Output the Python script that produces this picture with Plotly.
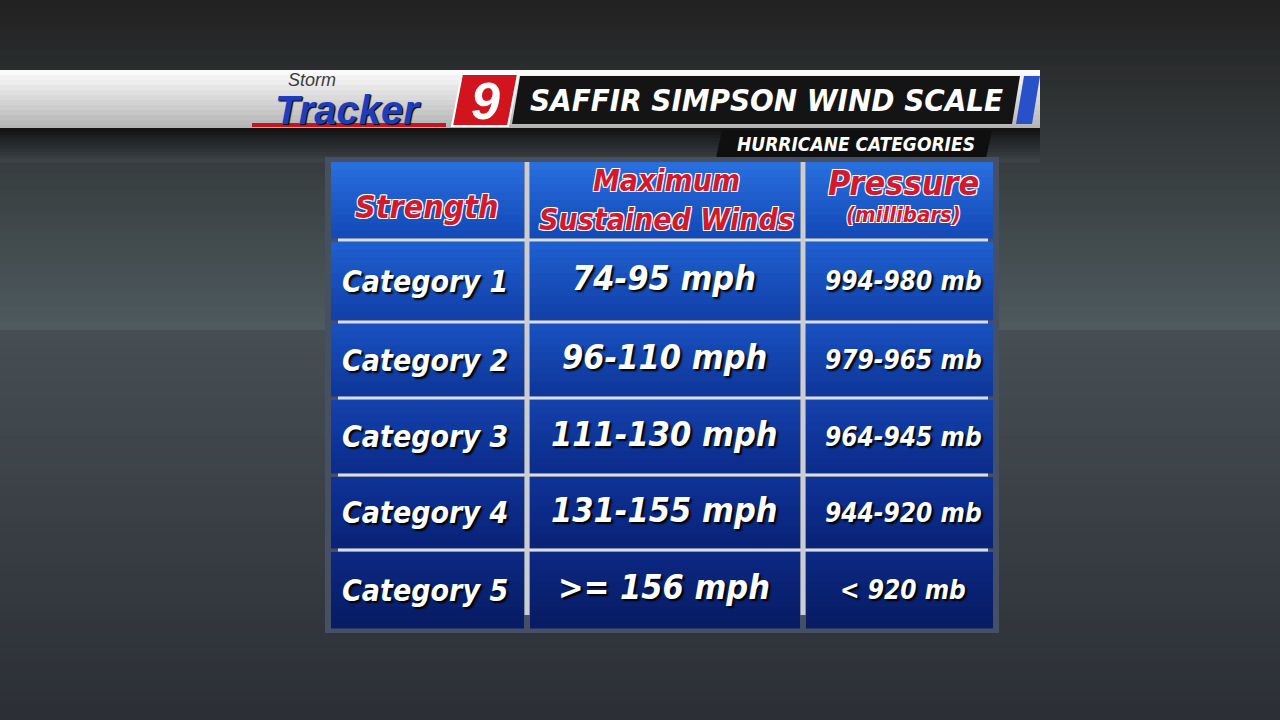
import plotly.graph_objects as go

title = "SAFFIR SIMPSON WIND SCALE"
subtitle = "HURRICANE CATEGORIES"
headers = ["Strength", "Maximum<br>Sustained Winds", "Pressure"]
header_sub = "(millibars)"
categories = ["Category 1", "Category 2", "Category 3", "Category 4", "Category 5"]
winds = ["74-95 mph", "96-110 mph", "111-130 mph", "131-155 mph", ">= 156 mph"]
pressures = ["994-980 mb", "979-965 mb", "964-945 mb", "944-920 mb", "< 920 mb"]

FONT = "DejaVu Sans Condensed, Liberation Sans Narrow, sans-serif"
shapes, ann = [], []

def lerp(c1, c2, t):
    return "rgb(%d,%d,%d)" % tuple(int(a + (b - a) * t) for a, b in zip(c1, c2))

def band(x0, x1, y0, y1, c1, c2, n=20):
    h = (y1 - y0) / n
    for i in range(n):
        shapes.append(dict(type="rect", xref="x", yref="y", x0=x0, x1=x1, y0=y0 + i * h, y1=y0 + (i + 1) * h + 0.6,
                           fillcolor=lerp(c1, c2, i / (n - 1)), line_width=0))

# background
band(0, 1280, 0, 330, (34, 34, 34), (78, 90, 94), 40)
band(0, 1280, 330, 720, (70, 78, 84), (44, 48, 54), 40)

# header bar
band(0, 1040, 70, 130, (250, 250, 250), (180, 180, 180), 12)
band(0, 1040, 128, 162, (20, 20, 20), (60, 66, 70), 10)
shapes.append(dict(type="path", path="M 520 76 L 1020 76 L 1012 124 L 512 124 Z", fillcolor="rgb(20,20,20)", line_width=0))
shapes.append(dict(type="path", path="M 1024 76 L 1040 76 L 1032 124 L 1016 124 Z", fillcolor="rgb(40,80,200)", line_width=0))
shapes.append(dict(type="path", path="M 462 74 L 518 74 L 508 126 L 452 126 Z", fillcolor="rgb(210,20,30)", line=dict(color="white", width=2)))
shapes.append(dict(type="path", path="M 722 130 L 992 130 L 986 158 L 716 158 Z", fillcolor="rgb(15,15,15)", line_width=0))
ann.append(dict(x=766, y=100, text="<b><i>" + title + "</i></b>", showarrow=False,
                font=dict(family=FONT, size=31, color="white")))
ann.append(dict(x=856, y=144, text="<b><i>" + subtitle + "</i></b>", showarrow=False,
                font=dict(family=FONT, size=19, color="white")))
ann.append(dict(x=485, y=101, text="<b><i>9</i></b>", showarrow=False,
                font=dict(family="Liberation Sans", size=52, color="white")))
ann.append(dict(x=312, y=80, text="<i>Storm</i>", showarrow=False,
                font=dict(family="Liberation Sans", size=18, color="rgb(60,60,60)")))
ann.append(dict(x=348, y=110, text="<b><i>Tracker</i></b>", showarrow=False,
                font=dict(family="Liberation Sans", size=40, color="rgb(30,60,190)", shadow="1px 1px 1px black")))
shapes.append(dict(type="rect", x0=252, x1=446, y0=123, y1=127, fillcolor="rgb(200,20,30)", line_width=0))

# table
X0, X1 = 328, 996
cols = [X0, 527, 803, X1]
rows = [160, 240, 322, 398, 475, 550, 630]
shapes.append(dict(type="rect", x0=X0 - 3, x1=X1 + 3, y0=157, y1=633, fillcolor="rgb(70,80,100)", line_width=0))
tops = [(40, 110, 220), (30, 95, 205), (25, 80, 190), (20, 65, 170), (15, 50, 150), (12, 40, 130)]
bots = [(20, 75, 185), (18, 65, 170), (15, 55, 155), (12, 45, 140), (10, 35, 120), (8, 28, 100)]
for r in range(6):
    for c in range(3):
        band(cols[c] + 3, cols[c + 1] - 3, rows[r] + 2, rows[r + 1] - 2, tops[r], bots[r], 10)
for y in rows[1:-1]:
    shapes.append(dict(type="line", x0=X0 + 10, x1=X1 - 8, y0=y, y1=y, line=dict(color="rgb(215,222,235)", width=3)))
for x in cols[1:3]:
    shapes.append(dict(type="line", x0=x, x1=x, y0=162, y1=615, line=dict(color="rgb(200,205,215)", width=5)))

outline = "1px 1px 0px white, -1px -1px 0px white, 1px -1px 0px white, -1px 1px 0px white"
hx = [427, 666, 903]
hs = [32, 30, 34]
hy = [207, 200, 183]
for i, h in enumerate(headers):
    ann.append(dict(x=hx[i], y=hy[i], text="<b><i>" + h + "</i></b>", showarrow=False,
                    font=dict(family=FONT, size=hs[i], color="rgb(210,25,45)", shadow=outline), yanchor="middle"))
ann.append(dict(x=903, y=214, text="<b><i>" + header_sub + "</i></b>", showarrow=False,
                font=dict(family=FONT, size=22, color="rgb(210,25,45)", shadow=outline), yanchor="middle"))
for i in range(5):
    yc = (rows[i + 1] + rows[i + 2]) / 2
    ann.append(dict(x=425, y=yc, text="<b><i>" + categories[i] + "</i></b>", showarrow=False,
                    font=dict(family=FONT, size=30, color="white", shadow="2px 2px 2px black")))
    ann.append(dict(x=664, y=yc - 3, text="<b><i>" + winds[i] + "</i></b>", showarrow=False,
                    font=dict(family=FONT, size=34, color="white", shadow="2px 2px 2px black")))
    ann.append(dict(x=903, y=yc, text="<b><i>" + pressures[i] + "</i></b>", showarrow=False,
                    font=dict(family=FONT, size=26, color="white", shadow="2px 2px 2px black")))

fig = go.Figure()
fig.update_layout(width=1280, height=720, margin=dict(l=0, r=0, t=0, b=0),
                  xaxis=dict(range=[0, 1280], visible=False, fixedrange=True),
                  yaxis=dict(range=[720, 0], visible=False, fixedrange=True),
                  plot_bgcolor="rgb(50,55,60)", paper_bgcolor="rgb(50,55,60)",
                  shapes=shapes, annotations=ann, showlegend=False)
div = fig.to_html(full_html=False, include_plotlyjs=True, config={"displayModeBar": False})
with open("out.html", "w", encoding="utf-8") as f:
    f.write("<!DOCTYPE html><html><head><meta charset='utf-8'><style>html,body{margin:0;padding:0;overflow:hidden;background:#32373c}</style></head><body>"
            + div + "</body></html>")
